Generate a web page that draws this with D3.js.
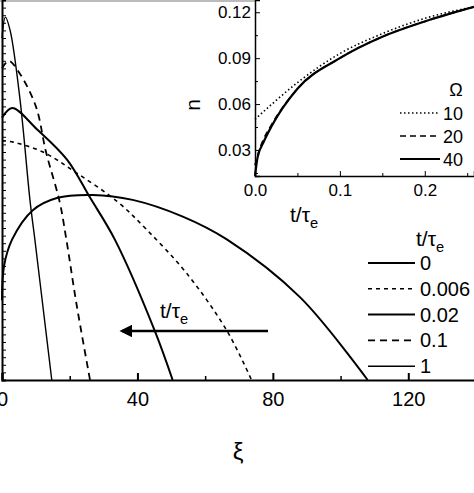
<!DOCTYPE html>
<html><head><meta charset="utf-8">
<script src="https://cdn.jsdelivr.net/npm/d3@7.9.0/dist/d3.min.js"></script>
<style>body{margin:0;background:#fff}svg{display:block;font-family:Arial,"Liberation Sans",sans-serif}</style>
</head><body><svg id="c" width="474" height="493"></svg>
<script>
// main profiles n(xi), arbitrary units
const mainSeries = [
  { t: "0", pts: [[0,0.21],[0.6,0.3],[3,0.37],[9.1,0.447],[16.2,0.479],[26.8,0.487],[38.6,0.474],[53.4,0.43],[66.4,0.37],[88,0.218],[108,0]] },
  { t: "0.006", pts: [[0,0.63],[3.3,0.626],[12.1,0.6],[22,0.545],[34,0.47],[42.8,0.395],[54.6,0.28],[66.4,0.13],[73.7,0]] },
  { t: "0.02", pts: [[0,0.69],[3,0.716],[10.3,0.66],[19.2,0.58],[26,0.48],[33.3,0.37],[45.1,0.13],[50.4,0]] },
  { t: "0.1", pts: [[0,0.82],[2,0.84],[5,0.81],[10,0.72],[13,0.6],[17,0.47],[19,0.37],[22,0.2],[26,0]] },
  { t: "1", pts: [[0,0.9],[1,0.955],[2.4,0.92],[5.3,0.74],[8.3,0.47],[9.7,0.37],[12,0.2],[14.7,0]] }
];
const mainDash = [null, "4,4", null, "7,5", null];
const mainWidth = [2, 1.6, 2, 1.8, 1.4];
const mainXTicks = [0, 40, 80, 120];

const insetSeries = [
  { w: "10", pts: [[0,0.05],[0.02,0.06],[0.05,0.074],[0.1,0.093],[0.15,0.106],[0.2,0.116],[0.258,0.1235]] },
  { w: "20", pts: [[0,0.02],[0.005,0.03],[0.01,0.037],[0.02,0.047],[0.05,0.07],[0.1,0.09],[0.15,0.104],[0.2,0.114],[0.258,0.1235]] },
  { w: "40", pts: [[0,0.013],[0.003,0.025],[0.01,0.035],[0.02,0.046],[0.05,0.07],[0.1,0.09],[0.15,0.104],[0.2,0.114],[0.258,0.1235]] }
];
const insetDash = ["1.5,2.5", "6,4", null];
const insetXTicks = [0, 0.1, 0.2];
const insetYTicks = [0.03, 0.06, 0.09, 0.12];

const svg = d3.select("#c");
svg.append("rect").attr("width", 474).attr("height", 2).attr("fill", "#bbb");

const x = d3.scaleLinear().domain([0, 140]).range([2, 476]);
const y = d3.scaleLinear().domain([0, 1]).range([380, 0]);
const line = d3.line().x(d => x(d[0])).y(d => y(d[1])).curve(d3.curveCatmullRom.alpha(0.5));

svg.append("g").attr("transform", "translate(0,380)")
  .call(d3.axisBottom(x).tickValues(mainXTicks).tickSize(-7).tickPadding(12))
  .call(g => g.select(".domain").attr("stroke-width", 2))
  .call(g => g.selectAll(".tick line").attr("stroke-width", 2))
  .call(g => g.selectAll("text").style("font-size", "20px").attr("fill", "#000"));
svg.append("g").attr("transform", "translate(0,380)")
  .call(d3.axisBottom(x).tickValues([20, 60, 100]).tickSize(-4).tickFormat(""))
  .call(g => g.select(".domain").remove())
  .call(g => g.selectAll(".tick line").attr("stroke-width", 1.5));
svg.append("g").attr("transform", "translate(2,0)")
  .call(d3.axisRight(y).ticks(40).tickSize(4).tickFormat(""))
  .call(g => g.select(".domain").attr("stroke-width", 2));

svg.append("g").selectAll("path").data(mainSeries).join("path")
  .attr("d", d => line(d.pts)).attr("fill", "none").attr("stroke", "#000")
  .attr("stroke-width", (d, i) => mainWidth[i])
  .attr("stroke-dasharray", (d, i) => mainDash[i]);

svg.append("text").attr("x", 238).attr("y", 460).style("font-size", "24px").attr("text-anchor", "middle").text("ξ");

// arrow
svg.append("defs").append("marker").attr("id", "ah").attr("viewBox", "0 0 10 10")
  .attr("refX", 8).attr("refY", 5).attr("markerWidth", 7).attr("markerHeight", 5).attr("orient", "auto")
  .append("path").attr("d", "M0,0L10,5L0,10Z");
svg.append("line").attr("x1", 268).attr("x2", 122).attr("y1", 331).attr("y2", 331)
  .attr("stroke", "#000").attr("stroke-width", 2.5).attr("marker-end", "url(#ah)");
function tau(sel, px, py, fs) {
  const t = sel.append("text").attr("x", px).attr("y", py).style("font-size", fs + "px");
  t.append("tspan").text("t/τ");
  t.append("tspan").style("font-size", (fs * 0.7) + "px").attr("dy", fs * 0.3).text("e");
}
tau(svg, 160, 318, 21);
tau(svg, 416, 246, 21);

const lg = svg.append("g");
mainSeries.forEach((s, i) => {
  const yy = 263 + i * 25.8;
  lg.append("line").attr("x1", 368).attr("x2", 415).attr("y1", yy).attr("y2", yy)
    .attr("stroke", "#000").attr("stroke-width", mainWidth[i]).attr("stroke-dasharray", mainDash[i]);
  lg.append("text").attr("x", 420).attr("y", yy + 7).style("font-size", "20px").text(s.t);
});

// inset
const ix = d3.scaleLinear().domain([0, 0.258]).range([255, 474]);
const iy = d3.scaleLinear().domain([0.013, 0.128]).range([176, 0]);
const ig = svg.append("g");
ig.append("rect").attr("x", 255).attr("y", 0).attr("width", 219).attr("height", 176).attr("fill", "#fff");
ig.append("g").attr("transform", "translate(0,176)")
  .call(d3.axisBottom(ix).tickValues(insetXTicks).tickSize(-5).tickPadding(8).tickFormat(d3.format(".1f")))
  .call(g => g.select(".domain").attr("stroke-width", 1.5))
  .call(g => g.selectAll("text").style("font-size", "17px").attr("fill", "#000"));
ig.append("g").attr("transform", "translate(0,176)")
  .call(d3.axisBottom(ix).tickValues([0.05, 0.15, 0.25]).tickSize(-3).tickFormat(""))
  .call(g => g.select(".domain").remove());
ig.append("g").attr("transform", "translate(255,0)")
  .call(d3.axisLeft(iy).tickValues(insetYTicks).tickSize(-5).tickPadding(4).tickFormat(d3.format(".2f")))
  .call(g => g.select(".domain").attr("stroke-width", 1.5))
  .call(g => g.selectAll("text").style("font-size", "17px").attr("fill", "#000"));
ig.append("g").attr("transform", "translate(255,0)")
  .call(d3.axisLeft(iy).tickValues([0.015, 0.045, 0.075, 0.105]).tickSize(-3).tickFormat(""))
  .call(g => g.select(".domain").remove());

const iline = d3.line().x(d => ix(d[0])).y(d => iy(d[1])).curve(d3.curveMonotoneX);
ig.append("g").selectAll("path").data(insetSeries).join("path")
  .attr("d", d => iline(d.pts)).attr("fill", "none").attr("stroke", "#000")
  .attr("stroke-width", (d, i) => i === 2 ? 2.2 : 1.6)
  .attr("stroke-dasharray", (d, i) => insetDash[i]);

ig.append("text").attr("transform", "translate(200,105) rotate(-90)").style("font-size", "21px")
  .attr("text-anchor", "middle").text("n");
tau(ig, 290, 222, 21);
ig.append("text").attr("x", 456).attr("y", 96).style("font-size", "18px").attr("text-anchor", "middle").text("Ω");
insetSeries.forEach((s, i) => {
  const yy = 113 + i * 23;
  ig.append("line").attr("x1", 400).attr("x2", 440).attr("y1", yy).attr("y2", yy)
    .attr("stroke", "#000").attr("stroke-width", i === 2 ? 2.2 : 1.6).attr("stroke-dasharray", insetDash[i]);
  ig.append("text").attr("x", 443).attr("y", yy + 7).style("font-size", "18px").text(s.w);
});
</script></body></html>
